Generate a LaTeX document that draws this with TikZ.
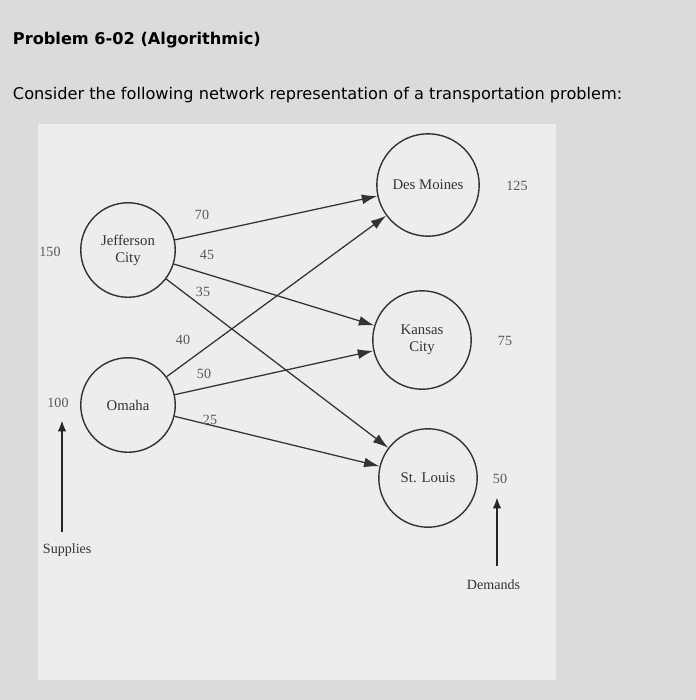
\documentclass[tikz,border=0pt]{standalone}
\usepackage{fontspec}
\setmainfont{Liberation Serif}
\newfontfamily\uisans{DejaVu Sans}
\usetikzlibrary{arrows.meta}
\begin{document}
\begin{tikzpicture}[x=0.025cm,y=-0.025cm,
  city/.style={circle,draw=black!80,line width=1pt,minimum size=#1,inner sep=0pt,align=center,font=\fontsize{10.5}{12}\selectfont,text=black!80},
  flow/.style={draw=black!80,line width=0.9pt,-{Latex[length=11pt,width=7pt]}},
  lbl/.style={font=\fontsize{10}{11}\selectfont,text=black!65},
  bigarrow/.style={draw=black!85,line width=1.6pt,-{Latex[length=8pt,width=6pt]}}]
\useasboundingbox (0,0) rectangle (696,700);
\fill[black!14] (0,0) rectangle (696,700);
\fill[black!7] (38,124) rectangle (556,680);
\node[anchor=west,font=\uisans\bfseries\fontsize{11.5}{13}\selectfont] (title) at (8,40) {Problem 6-02 (Algorithmic)};
\node[anchor=west,font=\uisans\fontsize{11.5}{13}\selectfont] (sub) at (8,95) {Consider the following network representation of a transportation problem:};
\node[city=96pt*0.7] (jc) at (128,250) {Jefferson\\City};
\node[city=96pt*0.7] (om) at (128,405) {Omaha};
\node[city=104pt*0.7] (dm) at (428,185) {Des Moines};
\node[city=100pt*0.7] (kc) at (422,340) {Kansas\\City};
\node[city=100pt*0.7] (sl) at (428,478) {St. Louis};
\draw[flow] (jc) -- (dm);
\draw[flow] (jc) -- (kc);
\draw[flow] (jc) -- (sl);
\draw[flow] (om) -- (dm);
\draw[flow] (om) -- (kc);
\draw[flow] (om) -- (sl);
\node[lbl] (l70) at (202,215) {70};
\node[lbl] (l45) at (207,255) {45};
\node[lbl] (l35) at (203,292) {35};
\node[lbl] (l40) at (183,340) {40};
\node[lbl] (l50) at (204,374) {50};
\node[lbl] (l25) at (210,420) {25};
\node[lbl] (s150) at (50,252) {150};
\node[lbl] (s100) at (58,403) {100};
\node[lbl] (d125) at (517,186) {125};
\node[lbl] (d75) at (505,341) {75};
\node[lbl] (d50) at (500,479) {50};
\coordinate (sa) at (62,532);
\coordinate (sb) at (62,420);
\draw[bigarrow] (sa) -- (sb);
\coordinate (da) at (497,566);
\coordinate (db) at (497,497);
\draw[bigarrow] (da) -- (db);
\node[lbl,anchor=west,text=black!80] (sup) at (38,550) {Supplies};
\node[lbl,anchor=west,text=black!80] (dem) at (462,585) {Demands};
\end{tikzpicture}
\end{document}
